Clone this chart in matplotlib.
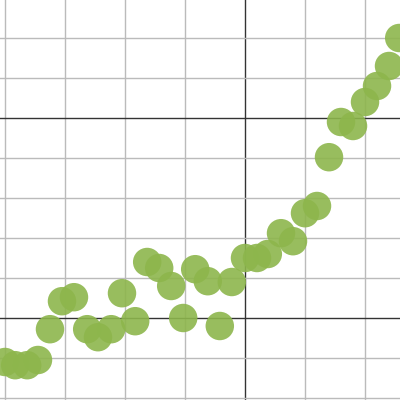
import matplotlib
matplotlib.use('Agg')
import matplotlib.pyplot as plt
import numpy as np

# points (x: 1 unit = one grid cell, y likewise)
xs = [-4.0, -3.83, -3.63, -3.45, -3.25, -3.05, -2.85, -2.63, -2.45, -2.23,
      -2.05, -1.83, -1.63, -1.43, -1.23, -1.03, -0.83, -0.62, -0.42, -0.22,
      0.0, 0.2, 0.38, 0.6, 0.8, 1.0, 1.2, 1.4, 1.6, 1.8, 2.0, 2.2, 2.4, 2.57]
ys = [-1.1, -1.18, -1.18, -1.05, -0.28, 0.42, 0.52, -0.28, -0.48, -0.28,
      0.62, -0.08, 1.4, 1.25, 0.8, 0.0, 1.22, 0.92, -0.2, 0.9,
      1.5, 1.5, 1.6, 2.12, 1.92, 2.62, 2.8, 4.02, 4.9, 4.8, 5.4, 5.8, 6.3, 7.0]

fig = plt.figure(figsize=(4, 4), dpi=100)
ax = fig.add_axes([0, 0, 1, 1])
ax.set_xlim(-4.083, 2.583)
ax.set_ylim(-2.05, 7.95)

for v in np.arange(-4, 3):
    ax.axvline(v, color='#333333' if v == 0 else '#bbbbbb', lw=1.0, zorder=0)
for v in np.arange(-2, 8):
    ax.axhline(v, color='#333333' if v in (0, 5) else '#bbbbbb', lw=1.0, zorder=0)

ax.scatter(xs, ys, s=420, color='#8db64c', alpha=0.9, edgecolors='none', zorder=2)
ax.set_xticks([])
ax.set_yticks([])
for s in ax.spines.values():
    s.set_visible(False)

fig.savefig('out.png')
